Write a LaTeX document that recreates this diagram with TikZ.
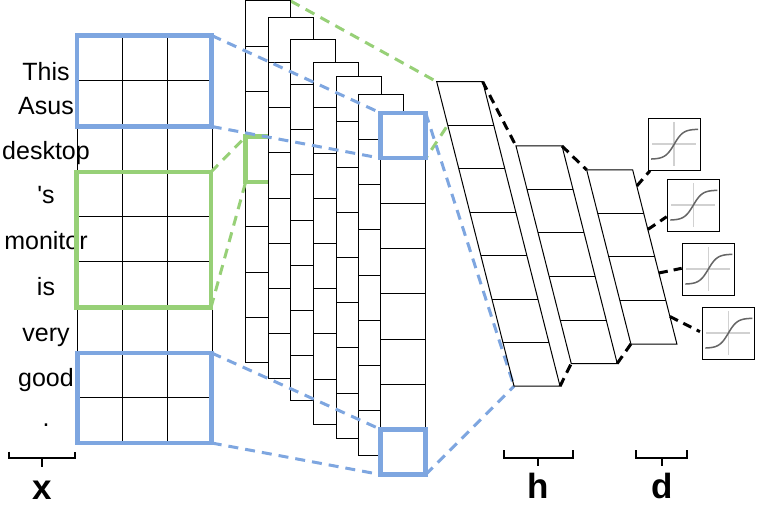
\documentclass[tikz,border=0pt]{standalone}
\usepackage{fontspec}
\setmainfont{Liberation Sans}[Ligatures=TeXOff]
\usetikzlibrary{calc}
\definecolor{myblue}{HTML}{7EA6E0}
\definecolor{mygreen}{HTML}{97D077}
\tikzset{
 cell/.style={draw=black, line width=1pt, fill=white},
 thinln/.style={draw=black, line width=1pt},
 bluebox/.style={draw=myblue, line width=4.5pt},
 greenbox/.style={draw=mygreen, line width=4.5pt},
 bluedash/.style={draw=myblue, line width=3pt, dash pattern=on 10pt off 7pt},
 greendash/.style={draw=mygreen, line width=3pt, dash pattern=on 10pt off 7pt},
 blackdash/.style={draw=black, line width=3pt, dash pattern=on 9pt off 6pt},
 word/.style={font=\fontsize{25}{30}\selectfont, anchor=base, inner sep=0pt},
 lab/.style={font=\fontsize{35}{40}\selectfont\bfseries, anchor=base, inner sep=0pt},
 bracketln/.style={draw=black, line width=2pt},
 sigbox/.style={draw=black, line width=1pt, minimum size=52pt, inner sep=0pt, fill=white},
 axisln/.style={draw=black!18, line width=1.5pt},
 sigln/.style={draw=black!60, line width=1.5pt},
}
\newcommand\fmcol[2]{%
  \filldraw[cell] (#1,#2) rectangle ++(45,361.6);
  \foreach \k in {1,...,7} \draw[thinln] (#1,{#2+45.2*\k}) -- ++(45,0);
}
\newcommand\slcol[3]{%
  \draw[thinln, line join=miter] (#1,#2) -- ++(46,0) -- ({#1+46+0.254*#3*43.5},{#2+#3*43.5}) -- ({#1+0.254*#3*43.5},{#2+#3*43.5}) -- cycle;
  \pgfmathtruncatemacro\nlast{#3-1}
  \foreach \k in {1,...,\nlast} \draw[thinln] ({#1+0.254*43.5*\k},{#2+43.5*\k}) -- ++(46,0);
}
\begin{document}
\begin{tikzpicture}[x=1pt,y=-1pt]
\useasboundingbox (0,0) rectangle (758,505);

% ---------- input grid ----------
\foreach \k in {1,...,8} \draw[thinln] (77.3,{35.7+45.2*\k}) -- (212.3,{35.7+45.2*\k});
\foreach \xx in {122.3,167.3} \draw[thinln] (\xx,35.7) -- (\xx,442.5);
\draw[thinln] (77.3,35.7) rectangle (212.3,442.5);

\node[word] (w1) at (46,81) {This};
\node[word] (w2) at (46,114.3) {Asus};
\node[word] (w3) at (46,159.3) {desktop};
\node[word] (w4) at (46,204) {'s};
\node[word] (w5) at (46,250) {monitor};
\node[word] (w6) at (46,295) {is};
\node[word] (w7) at (46,341.7) {very};
\node[word] (w8) at (46,386.7) {good};
\node[word] (w9) at (46,426.7) {.};

% ---------- named corners ----------
\coordinate (c1tr) at (290.7,1);
\coordinate (c1br) at (290.7,362.6);
\coordinate (Atl) at (436.7,81.7);
\coordinate (Ar1) at (447.7,125.2);
\coordinate (Atr) at (482.7,81.7);
\coordinate (Abl) at (514.0,386.2);
\coordinate (Abr) at (560.0,386.2);
\coordinate (Btl) at (516,146);
\coordinate (Btr) at (562,146);
\coordinate (Bbl) at (571.2,363.5);
\coordinate (Bbr) at (617.2,363.5);
\coordinate (Ctl) at (586.7,170);
\coordinate (Cbl) at (630.9,344);

% pooling lines behind the feature maps
\draw[greendash] (c1tr) -- (Atl);
\draw[greendash] (c1br) -- (Ar1);

% ---------- feature maps ----------
\fmcol{245.7}{1}
\draw[greenbox] (245.7,136.6) coordinate (gtl) rectangle (290.7,181.8);
\coordinate (gbl) at (245.7,181.8);
\fmcol{268.3}{17.3}
\fmcol{290}{39.3}
\fmcol{313.3}{62.7}
\fmcol{336.7}{76.7}
\fmcol{358.3}{94.3}
\fmcol{380.7}{113}

\draw[bluebox] (380.7,113) coordinate (qtl) rectangle (425.7,158.2);
\coordinate (qtr) at (425.7,113);
\coordinate (qbl) at (380.7,158.2);
\draw[bluebox] (380.7,429.4) coordinate (rtl) rectangle (425.7,474.6);
\coordinate (rbl) at (380.7,474.6);
\coordinate (rbr) at (425.7,474.6);

% ---------- filter windows ----------
\draw[bluebox] (77,35.5) rectangle (211.7,126.5);
\coordinate (b1tr) at (211.7,35.5);
\coordinate (b1br) at (211.7,126.5);
\draw[greenbox] (76.5,172) rectangle (211,307.5);
\coordinate (g1tr) at (211,172);
\coordinate (g1br) at (211,307.5);
\draw[bluebox] (77.5,353) rectangle (211.7,443);
\coordinate (b2tr) at (211.7,353);
\coordinate (b2br) at (211.7,443);

\draw[bluedash] (b1tr) -- (qtl);
\draw[bluedash] (b1br) -- (qbl);
\draw[bluedash] (b2tr) -- (rtl);
\draw[bluedash] (b2br) -- (rbl);
\draw[greendash] (g1tr) -- (gtl);
\draw[greendash] (g1br) -- (gbl);
\draw[bluedash] (qtr) -- (Abl);
\draw[bluedash] (rbr) -- (Abl);

% ---------- slanted layers ----------
\slcol{436.7}{81.7}{7}
\slcol{516}{146}{5}
\slcol{586.7}{170}{4}

\draw[blackdash] (Atr) -- (Btl);
\draw[blackdash] (Btr) -- (Ctl);
\draw[blackdash] (Abr) -- (Bbl);
\draw[blackdash] (Bbr) -- (Cbl);

% ---------- sigmoid outputs ----------
\node[sigbox] (s1) at (674.2,144.2) {};
\node[sigbox] (s2) at (693.3,205.2) {};
\node[sigbox] (s3) at (708.3,269.2) {};
\node[sigbox] (s4) at (728.3,333.2) {};
\foreach \s in {s1,s2,s3,s4}{
  \begin{scope}[shift={(\s.center)}]
    \draw[axisln] (-22,0) -- (22,0);
    \draw[axisln] (0,-22) -- (0,22);
    \draw[sigln] plot[domain=-23:24, samples=60, smooth] (\x,{-15*tanh(\x/9)});
  \end{scope}
}
\coordinate (o1) at (636.8,186);
\coordinate (o2) at (647.8,229.5);
\coordinate (o3) at (658.9,273);
\coordinate (o4) at (669.9,316.5);
\coordinate (e1) at (650,170.7);
\coordinate (e2) at (666.7,216.7);
\coordinate (e3) at (681.7,268.3);
\coordinate (e4) at (700,331.7);
\draw[blackdash] (o1) -- (e1);
\draw[blackdash] (o2) -- (e2);
\draw[blackdash] (o3) -- (e3);
\draw[blackdash] (o4) -- (e4);

% ---------- brackets and labels ----------
\draw[bracketln] (9,451.7) -- (9,458.3) -- (75,458.3) -- (75,451.7);
\draw[bracketln] (42.3,458.3) -- (42.3,466.7);
\node[lab] (lx) at (42.3,499) {x};
\draw[bracketln] (504,450) -- (504,458.3) -- (572.7,458.3) -- (572.7,450);
\draw[bracketln] (538.3,458.3) -- (538.3,466);
\node[lab] (lh) at (538.3,498.3) {h};
\draw[bracketln] (636,450) -- (636,458.3) -- (687.3,458.3) -- (687.3,450);
\draw[bracketln] (661.7,458.3) -- (661.7,466);
\node[lab] (ld) at (661.7,498.3) {d};
\end{tikzpicture}
\end{document}
